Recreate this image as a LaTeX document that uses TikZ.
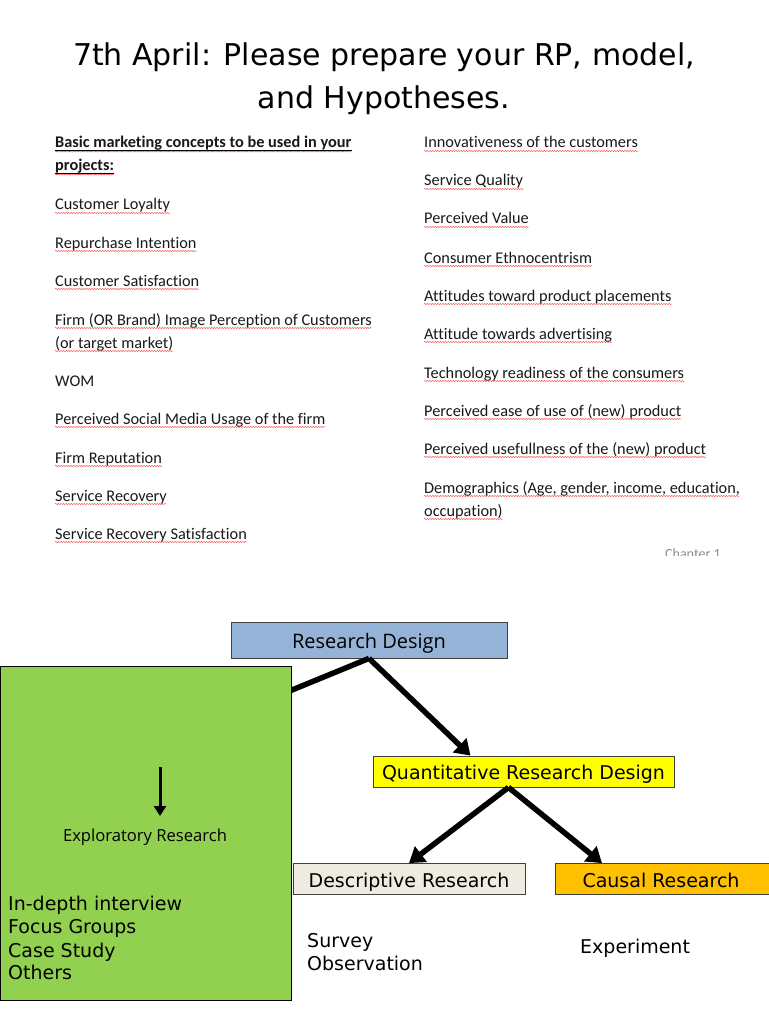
\documentclass[tikz,border=0pt]{standalone}
\usepackage{fontspec}
\setmainfont{DejaVu Sans}
\newfontfamily\carl[Ligatures=NoCommon]{Carlito}
\newfontfamily\osans{Open Sans}
\usetikzlibrary{arrows.meta,decorations.pathmorphing}
\definecolor{rdblue}{HTML}{95B3D7}
\definecolor{exgreen}{HTML}{92D050}
\definecolor{qyellow}{HTML}{FFFF00}
\definecolor{descbg}{HTML}{EEECE1}
\definecolor{causorange}{HTML}{FFC000}
\begin{document}
\begin{tikzpicture}[x=1pt,y=-1pt,
  listitem/.style={anchor=base west,inner sep=0pt,font=\carl\fontsize{16.3}{19}\selectfont,text=black!90},
  wavy/.style={draw=red!75,line width=0.45pt,decorate,decoration={snake,amplitude=0.55pt,segment length=2.6pt}},
  boxstyle/.style={draw=black!75,line width=0.8pt,inner sep=0pt,minimum height=31pt},
  boxtext/.style={anchor=base,inner sep=0pt,font=\fontsize{19}{22}\selectfont},
  bigarrow/.style={line width=5.5pt,-{Triangle[length=15pt,width=19pt]}},
  plain/.style={anchor=base west,inner sep=0pt,font=\fontsize{19}{22}\selectfont}
]
\useasboundingbox[fill=white] (0,0) rectangle (768,1024);
% title
\node[anchor=base,inner sep=0pt,font=\fontsize{30}{34}\selectfont] (t1) at (384,66) {7th April: Please prepare your RP, model,};
\node[anchor=base,inner sep=0pt,font=\fontsize{30}{34}\selectfont] (t2) at (384,109) {and Hypotheses.};
% left column
\node[listitem,font=\carl\bfseries\fontsize{16.3}{19}\selectfont] (h1) at (55,148) {Basic marketing concepts to be used in your};
\node[listitem,font=\carl\bfseries\fontsize{16.3}{19}\selectfont] (h2) at (55,171) {projects:};
\draw[wavy] ([yshift=-3.5]h1.base west) -- ([yshift=-3.5]h1.base east);
\draw[wavy] ([yshift=-3.5]h2.base west) -- ([yshift=-3.5]h2.base east);
\draw[line width=0.8pt] ([yshift=-2.5]h1.base west) -- ([yshift=-2.5]h1.base east);
\draw[line width=0.8pt] ([yshift=-2.5]h2.base west) -- ([yshift=-2.5]h2.base east);
\foreach \n/\y/\t in {l1/210/Customer Loyalty, l2/248/Repurchase Intention, l3/286/Customer Satisfaction,
  l4/325/Firm (OR Brand) Image Perception of Customers, l5/348/(or target market),
  l7/424/Perceived Social Media Usage of the firm, l8/463/Firm Reputation, l9/501/Service Recovery,
  l10/539/Service Recovery Satisfaction}{
  \node[listitem] (\n) at (55,\y) {\t};
  \draw[wavy] ([yshift=-3]\n.base west) -- ([yshift=-3]\n.base east);
}
\node[listitem] (l6) at (55,386) {WOM};
% right column
\foreach \n/\y/\t in {r1/148/Innovativeness of the customers, r2/186/Service Quality, r3/224/Perceived Value,
  r4/263/Consumer Ethnocentrism, r5/301/Attitudes toward product placements, r6/339/Attitude towards advertising,
  r7/378/Technology readiness of the consumers, r8/416/Perceived ease of use of (new) product,
  r9/454/Perceived usefullness of the (new) product, r10/493/{Demographics (Age, gender, income, education,},
  r11/516/occupation)}{
  \node[listitem] (\n) at (424,\y) {\t};
  \draw[wavy] ([yshift=-3]\n.base west) -- ([yshift=-3]\n.base east);
}
\begin{scope}
\clip (600,530) rectangle (768,555);
\node[anchor=base west,inner sep=0pt,font=\carl\fontsize{14}{16}\selectfont,text=black!45] (ch) at (665,558) {Chapter 1};
\end{scope}
% diagram
\node[boxstyle,fill=rdblue,minimum width=276pt,minimum height=36pt] (rd) at (369,640) {};
\node[boxtext,font=\osans\fontsize{20}{24}\selectfont] (rdt) at (369,648) {Research Design};
\coordinate (hid) at (214,722);
\draw[line width=5.5pt] (rd.south) -- (hid);
\node[draw=black,line width=1pt,fill=exgreen,anchor=north west,minimum width=291pt,minimum height=334pt,inner sep=0pt] (ex) at (0,666) {};
\node[boxstyle,fill=qyellow,minimum width=301pt] (qrd) at (523.5,771.5) {};
\node[boxtext] (qrdt) at (523.5,779) {Quantitative Research Design};
\node[boxstyle,fill=descbg,minimum width=232pt] (desc) at (409,879) {};
\node[boxtext] (desct) at (409,887) {Descriptive Research};
\node[boxstyle,fill=causorange,minimum width=214pt,anchor=west] (caus) at (555,879) {};
\node[boxtext] (caust) at (661,887) {Causal Research};
\draw[bigarrow] (rd.south) -- ([xshift=-53pt]qrd.north);
\draw[bigarrow] ([xshift=-15pt]qrd.south) -- (desc.north);
\draw[bigarrow] ([xshift=-15pt]qrd.south) -- ([xshift=-59pt]caus.north -| caust.north);
% inside green box
\coordinate (sa) at (160,767);
\coordinate (sb) at (160,816);
\node[inner sep=0pt,anchor=base,font=\osans\fontsize{16.6}{19}\selectfont] (exr) at (145,841) {Exploratory Research};
\draw[line width=3pt,-{Triangle[length=10pt,width=12pt]}] (sa) -- (sb);
\node[plain] (e1) at (8,910) {In-depth interview};
\node[plain] (e2) at (8,933) {Focus Groups};
\node[plain] (e3) at (8,957) {Case Study};
\node[plain] (e4) at (8,979) {Others};
% below quantitative
\node[plain] (s1) at (307,947) {Survey};
\node[plain] (s2) at (307,970) {Observation};
\node[plain] (x1) at (580,953) {Experiment};
\end{tikzpicture}
\end{document}
